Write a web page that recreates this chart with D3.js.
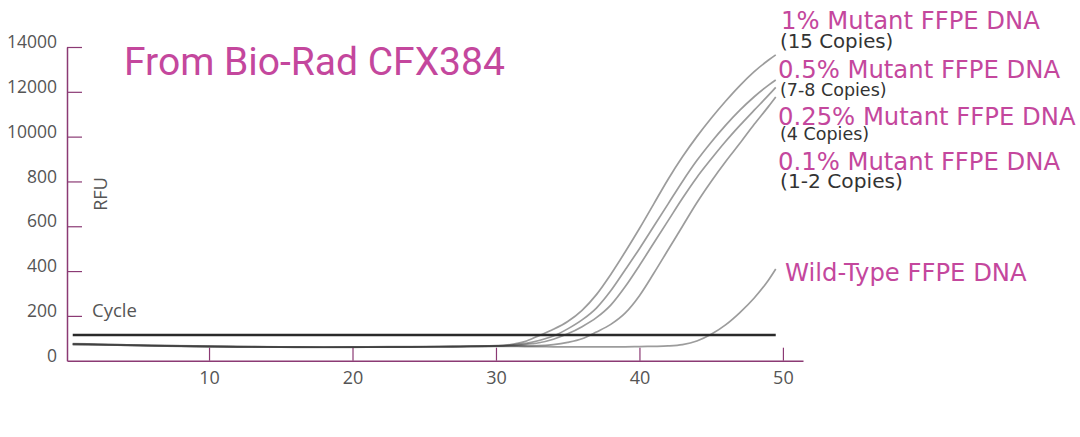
<!DOCTYPE html>
<html>
<head>
<meta charset="utf-8">
<script src="https://cdn.jsdelivr.net/npm/d3@7"></script>
<style>
  body { margin: 0; background: #fff; }
  svg { display: block; }
</style>
</head>
<body>
<svg id="chart" width="1080" height="437"></svg>
<script>
// cycles sampled for every trace
const cycles = [0.5, 3, 6, 9, 12, 15, 18, 21, 24, 27, 30,
  31, 32, 33, 34, 35, 36, 37, 38, 39, 40, 41, 42, 43, 44, 45, 46, 47, 48, 49, 49.5]

// RFU values per sample
const mut1 = [75, 72, 68, 65, 63, 62, 61, 62, 63, 64, 67,
  72, 85, 112, 140, 175, 225, 295, 385, 485, 590, 700, 810, 910, 1000, 1082, 1158, 1228, 1290, 1342, 1365]
const mut05 = [73, 70, 66, 64, 62, 60, 60, 61, 62, 63, 66,
  70, 76, 90, 110, 142, 182, 235, 312, 405, 500, 600, 700, 800, 893, 975, 1050, 1118, 1178, 1230, 1253]
const mut025 = [76, 73, 69, 66, 64, 62, 61, 61, 62, 64, 66,
  68, 72, 80, 96, 120, 152, 192, 248, 330, 425, 525, 625, 725, 818, 900, 978, 1050, 1118, 1185, 1220]
const mut01 = [74, 71, 67, 64, 62, 61, 60, 60, 61, 63, 65,
  66, 66, 67, 72, 82, 98, 128, 162, 212, 290, 390, 495, 600, 705, 800, 888, 970, 1055, 1135, 1177]
const wildType = [72, 70, 66, 63, 61, 60, 59, 60, 61, 62, 64,
  64, 63, 63, 62, 62, 62, 62, 62, 62, 63, 64, 66, 72, 88, 118, 160, 215, 280, 360, 409]

const threshold = 115
const thresholdRange = [0.5, 49.5]

const yTicks = [0, 200, 400, 600, 800, 1000, 1200, 1400]
const yTickLabels = ['0', '200', '400', '600', '800', '10000', '12000', '14000']
const xTicks = [10, 20, 30, 40, 50]

const labels = [
  {name: '1% Mutant FFPE DNA', copies: '(15 Copies)'},
  {name: '0.5% Mutant FFPE DNA', copies: '(7-8 Copies)'},
  {name: '0.25% Mutant FFPE DNA', copies: '(4 Copies)'},
  {name: '0.1% Mutant FFPE DNA', copies: '(1-2 Copies)'},
  {name: 'Wild-Type FFPE DNA', copies: ''}
]

const pink = '#c4479d'
const axisColor = '#8b3a74'
const textGray = '#555'

const svg = d3.select('#chart')

const xScale = d3.scaleLinear().domain([0.1, 51.4]).range([67, 803])
const yScale = d3.scaleLinear().domain([0, 1400]).range([360.7, 47])

// y axis, ticks pointing inward
const yAxisG = svg.append('g')
  .attr('transform', 'translate(67,0)')
  .call(d3.axisLeft(yScale)
    .tickValues(yTicks)
    .tickFormat((d, i) => yTickLabels[i])
    .tickSizeInner(-15)
    .tickSizeOuter(0)
    .tickPadding(10))
yAxisG.select('.domain').attr('stroke', axisColor).attr('stroke-width', 1.5)
yAxisG.selectAll('.tick line').attr('stroke', axisColor).attr('stroke-width', 1.2)
yAxisG.selectAll('.tick').filter(d => d === 0).select('line').remove()
yAxisG.selectAll('.tick text')
  .attr('fill', textGray)
  .attr('y', -5)
  .style('font-family', '"Open Sans", sans-serif')
  .style('font-size', '17.5px')

// x axis, ticks pointing up
const xAxisG = svg.append('g')
  .attr('transform', 'translate(0,360.7)')
  .call(d3.axisBottom(xScale)
    .tickValues(xTicks)
    .tickSizeInner(-13)
    .tickSizeOuter(0)
    .tickPadding(11))
xAxisG.select('.domain').attr('stroke', axisColor).attr('stroke-width', 1.5)
xAxisG.selectAll('.tick line').attr('stroke', axisColor).attr('stroke-width', 1.2)
xAxisG.selectAll('.tick text')
  .attr('fill', textGray)
  .style('font-family', '"Open Sans", sans-serif')
  .style('font-size', '18px')

// traces
const line = d3.line()
  .x((d, i) => xScale(cycles[i]))
  .y(d => yScale(d))
  .curve(d3.curveMonotoneX)

svg.append('g')
  .selectAll('path')
  .data([wildType, mut01, mut025, mut05, mut1])
  .enter()
  .append('path')
  .attr('fill', 'none')
  .attr('stroke', '#3a3a3a')
  .attr('stroke-opacity', 0.5)
  .attr('stroke-width', 1.7)
  .attr('d', line)

// threshold line
svg.append('line')
  .attr('x1', xScale(thresholdRange[0]))
  .attr('x2', xScale(thresholdRange[1]))
  .attr('y1', yScale(threshold))
  .attr('y2', yScale(threshold))
  .attr('stroke', '#2a2a2a')
  .attr('stroke-width', 2.4)

// axis titles
svg.append('text')
  .attr('transform', 'translate(107,194) rotate(-90)')
  .attr('text-anchor', 'middle')
  .attr('fill', textGray)
  .style('font-family', '"Open Sans", sans-serif')
  .style('font-size', '18px')
  .text('RFU')

svg.append('text')
  .attr('x', 92)
  .attr('y', 317)
  .attr('fill', textGray)
  .style('font-family', '"Open Sans", sans-serif')
  .style('font-size', '18.5px')
  .text('Cycle')

// title
svg.append('text')
  .attr('x', 124)
  .attr('y', 75)
  .attr('fill', pink)
  .style('font-family', 'Roboto, sans-serif')
  .style('font-size', '39px')
  .text('From Bio-Rad CFX384')

// series labels
const nameY = [29, 78, 125, 170, 281]
const copiesY = [48, 96, 140, 188]
const copiesSize = [19.8, 17.5, 17.5, 20.2]
const nameX = [781, 778, 778, 778, 785]

svg.append('g')
  .selectAll('text')
  .data(labels)
  .enter()
  .append('text')
  .attr('x', (d, i) => nameX[i])
  .attr('y', (d, i) => nameY[i])
  .attr('fill', pink)
  .style('font-family', '"DejaVu Sans", sans-serif')
  .style('font-size', '24.3px')
  .text(d => d.name)

svg.append('g')
  .selectAll('text')
  .data(labels.filter(d => d.copies))
  .enter()
  .append('text')
  .attr('x', 780)
  .attr('y', (d, i) => copiesY[i])
  .attr('fill', '#333')
  .style('font-family', '"DejaVu Sans", sans-serif')
  .style('font-size', (d, i) => copiesSize[i] + 'px')
  .text(d => d.copies)
</script>
</body>
</html>
